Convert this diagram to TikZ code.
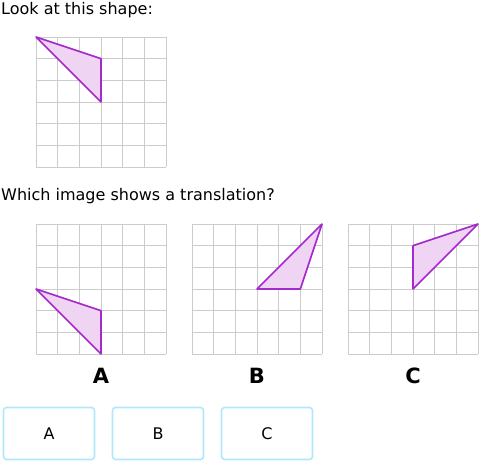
\documentclass[tikz,border=0pt]{standalone}
\usepackage{fontspec}
\setmainfont{DejaVu Sans}
\definecolor{gridc}{HTML}{CCCCCC}
\definecolor{trist}{HTML}{A52ACB}
\definecolor{trifill}{HTML}{F0D4F4}
\definecolor{btnc}{HTML}{B0E8FA}
\begin{document}
\begin{tikzpicture}[x=1pt,y=-1pt,
  gridline/.style={draw=gridc,line width=0.9pt},
  tri/.style={draw=trist,fill=trifill,line width=1.6pt,line join=round},
  qtext/.style={anchor=base west,inner sep=0pt,font=\fontsize{16}{19}\selectfont},
  biglabel/.style={inner sep=0pt,font=\fontsize{21}{25}\selectfont\bfseries},
  btn/.style={draw=btnc,line width=1.6pt,rounded corners=3pt,minimum width=91pt,minimum height=52pt,inner sep=0pt,font=\fontsize{16}{19}\selectfont}]
\useasboundingbox (0,0) rectangle (480,462);
\node[qtext] (q1) at (1,15) {Look at this shape:};
\node[qtext] (q2) at (1,201) {Which image shows a translation?};
% grids
\foreach \gx/\gy in {36/37,36/224,192/224,348/224}{
  \begin{scope}[shift={(\gx,\gy)},x=21.6667pt,y=-21.6667pt]
    \foreach \i in {0,...,6}{
      \draw[gridline] (\i,0) -- (\i,6);
      \draw[gridline] (0,\i) -- (6,\i);
    }
  \end{scope}
}
% triangles
\begin{scope}[shift={(36,37)},x=21.6667pt,y=-21.6667pt]
  \coordinate (o1) at (0,0); \coordinate (o2) at (3,1); \coordinate (o3) at (3,3);
  \filldraw[tri] (o1) -- (o2) -- (o3) -- cycle;
\end{scope}
\begin{scope}[shift={(36,224)},x=21.6667pt,y=-21.6667pt]
  \coordinate (a1) at (0,3); \coordinate (a2) at (3,4); \coordinate (a3) at (3,6);
  \filldraw[tri] (a1) -- (a2) -- (a3) -- cycle;
\end{scope}
\begin{scope}[shift={(192,224)},x=21.6667pt,y=-21.6667pt]
  \coordinate (b1) at (6,0); \coordinate (b2) at (3,3); \coordinate (b3) at (5,3);
  \filldraw[tri] (b1) -- (b2) -- (b3) -- cycle;
\end{scope}
\begin{scope}[shift={(348,224)},x=21.6667pt,y=-21.6667pt]
  \coordinate (c1) at (6,0); \coordinate (c2) at (3,1); \coordinate (c3) at (3,3);
  \filldraw[tri] (c1) -- (c2) -- (c3) -- cycle;
\end{scope}
% labels
\node[biglabel] (la) at (101,375.5) {A};
\node[biglabel] (lb) at (257,375.5) {B};
\node[biglabel] (lc) at (413,375.5) {C};
% buttons
\node[btn] (ba) at (49,433.5) {A};
\node[btn] (bb) at (158,433.5) {B};
\node[btn] (bc) at (267,433.5) {C};
\end{tikzpicture}
\end{document}
